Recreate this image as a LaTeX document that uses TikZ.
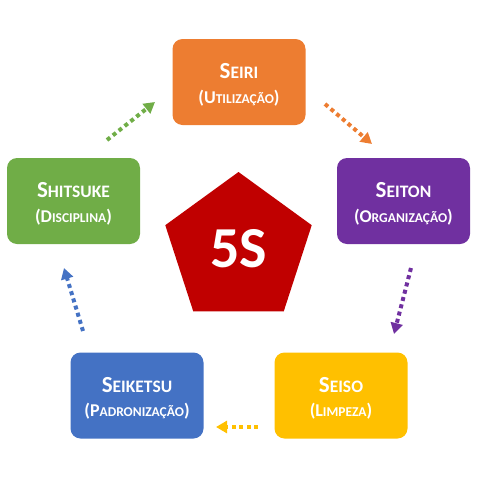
\documentclass[tikz,border=0pt]{standalone}
\usepackage{fontspec}
\setmainfont{Carlito}
\usetikzlibrary{arrows.meta,shapes.geometric}
\definecolor{cOrange}{HTML}{ED7D31}
\definecolor{cPurple}{HTML}{7030A0}
\definecolor{cGreen}{HTML}{70AD47}
\definecolor{cBlue}{HTML}{4472C4}
\definecolor{cYellow}{HTML}{FFC000}
\definecolor{cRed}{HTML}{C00000}
\newcommand{\ttl}[2]{{\fontsize{23}{24}\selectfont #1}{\fontsize{17.5}{20}\selectfont #2}}
\newcommand{\sub}[2]{{\fontsize{18}{20}\selectfont (#1}{\fontsize{13.5}{16}\selectfont #2}{\fontsize{18}{20}\selectfont )}}
\begin{document}
\begin{tikzpicture}[x=1pt,y=-1pt,
  sbox/.style={rectangle,rounded corners=10pt,minimum width=133pt,minimum height=86pt,inner sep=0pt},
  btxt/.style={text=white,font=\bfseries,align=center,inner sep=0pt,yshift=-3pt},
  flow/.style={line width=4pt,dash pattern=on 4pt off 3.5pt,-{Triangle[length=11pt,width=12pt]}}]
\useasboundingbox (0,0) rectangle (480,480);
\node[sbox,fill=cOrange] (seiri) at (239,82) {};
\node[sbox,fill=cPurple] (seiton) at (403.5,201) {};
\node[sbox,fill=cGreen] (shitsuke) at (73.5,201) {};
\node[sbox,fill=cBlue] (seiketsu) at (137,395.5) {};
\node[sbox,fill=cYellow] (seiso) at (341,395.5) {};
\node[btxt] (seiri-t) at (seiri) {\ttl{S}{EIRI}\\[10pt]\sub{U}{TILIZAÇÃO}};
\node[btxt] (seiton-t) at (seiton) {\ttl{S}{EITON}\\[10pt]\sub{O}{RGANIZAÇÃO}};
\node[btxt] (shitsuke-t) at (shitsuke) {\ttl{S}{HITSUKE}\\[10pt]\sub{D}{ISCIPLINA}};
\node[btxt] (seiketsu-t) at (seiketsu) {\ttl{S}{EIKETSU}\\[10pt]\sub{P}{ADRONIZAÇÃO}};
\node[btxt] (seiso-t) at (seiso) {\ttl{S}{EISO}\\[10pt]\sub{L}{IMPEZA}};
\node[regular polygon,regular polygon sides=5,minimum size=154pt,fill=cRed,inner sep=0pt,
  text=white,font=\bfseries\fontsize{58}{58}\selectfont] (five) at (238.5,249) {\raisebox{-4pt}{5S}};
\coordinate (g1) at (107,140); \coordinate (g2) at (155,102);
\coordinate (o1) at (325,104); \coordinate (o2) at (372,144);
\coordinate (p1) at (411,268); \coordinate (p2) at (394,334);
\coordinate (y1) at (258,427); \coordinate (y2) at (216,427);
\coordinate (b1) at (83,331); \coordinate (b2) at (64,268);
\draw[flow,cGreen] (g1) -- (g2);
\draw[flow,cOrange] (o1) -- (o2);
\draw[flow,cPurple] (p1) -- (p2);
\draw[flow,cYellow] (y1) -- (y2);
\draw[flow,cBlue] (b1) -- (b2);
\end{tikzpicture}
\end{document}
